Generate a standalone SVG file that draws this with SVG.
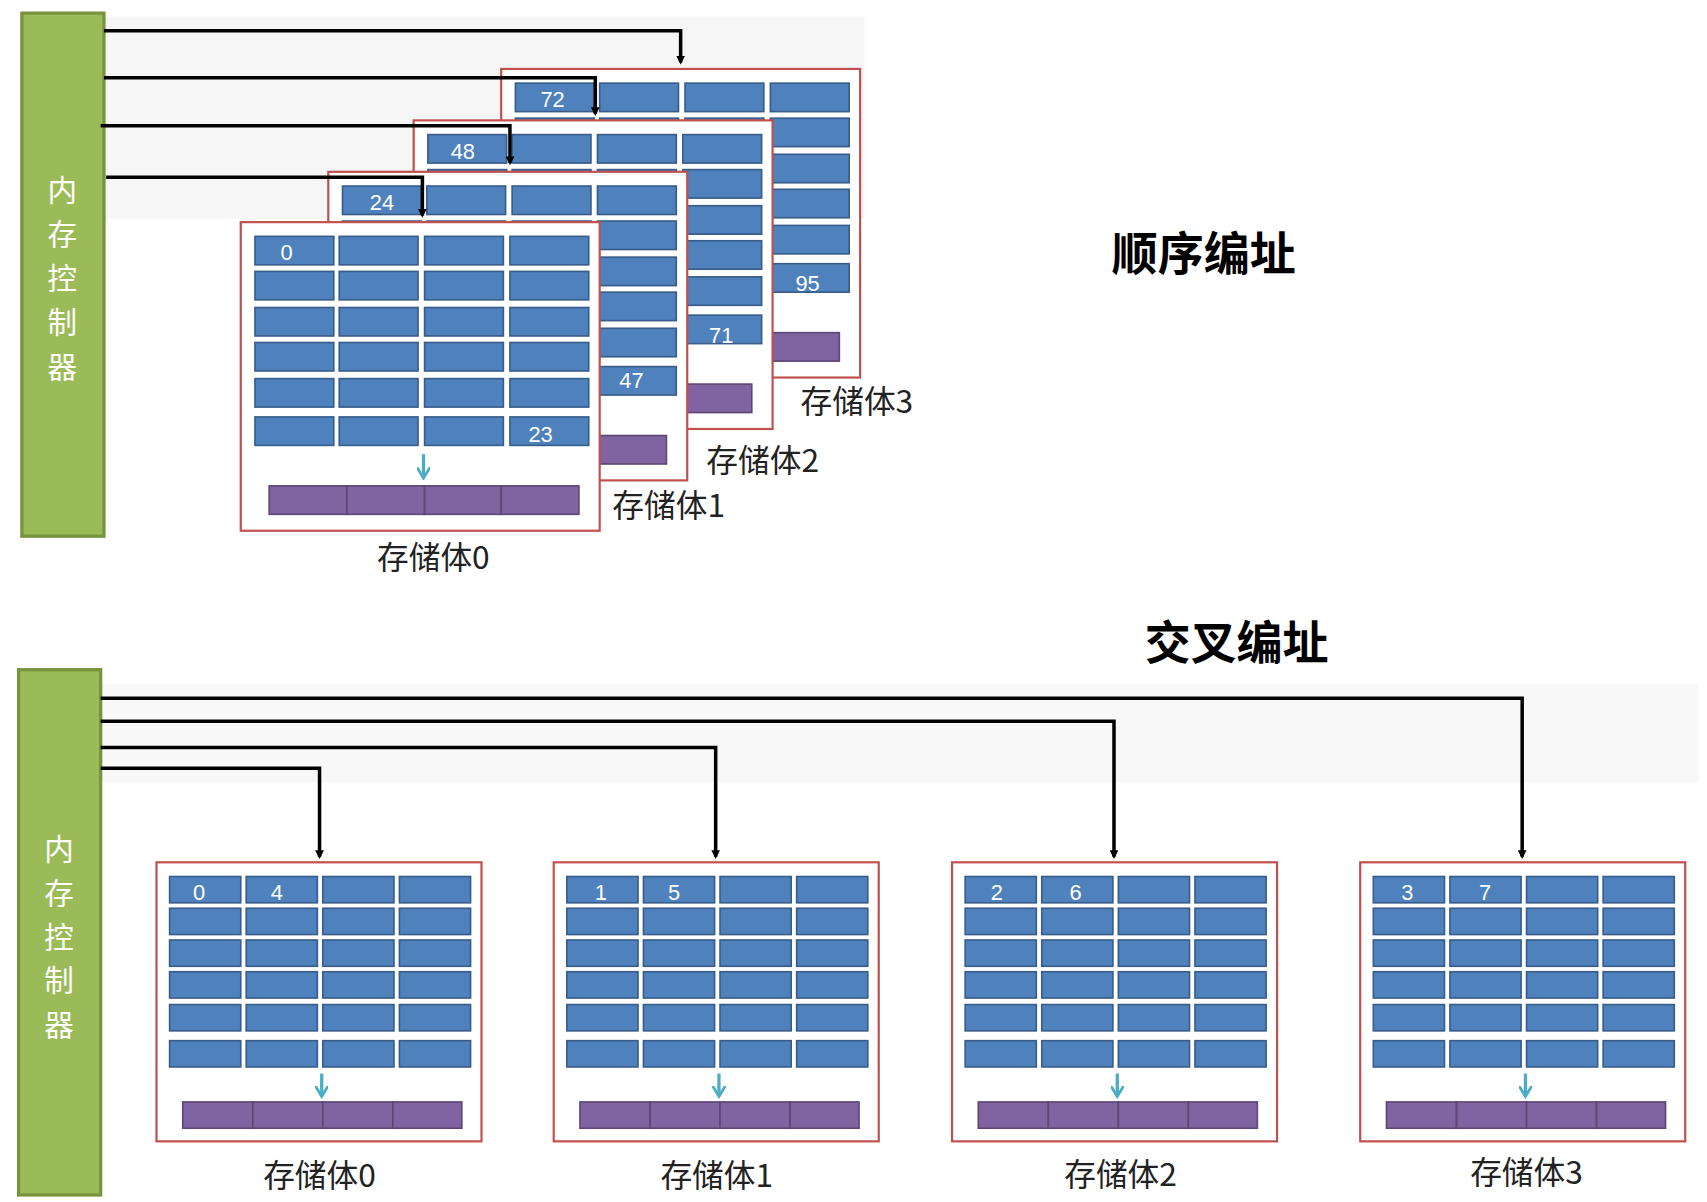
<svg xmlns="http://www.w3.org/2000/svg" xmlns:xlink="http://www.w3.org/1999/xlink" width="1707" height="1202" viewBox="0 0 1707 1202">
<style>
.ctl{fill:#9bbb59;stroke:#77933c;stroke-width:3}
.ctlt{fill:#fff;font-family:"Noto Sans CJK SC",sans-serif;font-size:27px;text-anchor:middle}
.frame{fill:#fff;stroke:#c0504d;stroke-width:2}
.cell{fill:#4f81bd;stroke:#385d8a;stroke-width:1.5}
.pur{fill:#8064a2;stroke:#5c4776;stroke-width:1.5}
.num{fill:#fff;font-family:"Liberation Sans",sans-serif;font-size:20px;text-anchor:middle}
.lbl{fill:#222;font-family:"Noto Sans CJK SC",sans-serif;font-size:29px;text-anchor:middle}
.title{fill:#000;font-family:"Noto Sans CJK SC",sans-serif;font-size:42px;font-weight:bold;text-anchor:middle}
.wire{fill:none;stroke:#000;stroke-width:3.2;marker-end:url(#ah)}
.cy{stroke:#4bacc6;stroke-width:3;marker-end:url(#ch)}
</style>
<defs>
<marker id="ah" markerWidth="8" markerHeight="8" refX="6" refY="4" orient="auto" markerUnits="userSpaceOnUse"><path d="M0,0 L8,4 L0,8 Z" fill="#000"/></marker>
<marker id="ch" markerWidth="12" markerHeight="12" refX="10" refY="6" orient="auto" markerUnits="userSpaceOnUse"><path d="M0,0 L10,6 L0,12" fill="none" stroke="#4bacc6" stroke-width="2.5"/></marker>
<g id="bankTop">
<rect class="frame" x="0" y="0" width="328" height="282"/>
<g class="cell">
<rect x="13" y="13" width="72" height="26"/><rect x="90" y="13" width="72" height="26"/><rect x="168" y="13" width="72" height="26"/><rect x="246" y="13" width="72" height="26"/>
<rect x="13" y="45" width="72" height="26"/><rect x="90" y="45" width="72" height="26"/><rect x="168" y="45" width="72" height="26"/><rect x="246" y="45" width="72" height="26"/>
<rect x="13" y="78" width="72" height="26"/><rect x="90" y="78" width="72" height="26"/><rect x="168" y="78" width="72" height="26"/><rect x="246" y="78" width="72" height="26"/>
<rect x="13" y="110" width="72" height="26"/><rect x="90" y="110" width="72" height="26"/><rect x="168" y="110" width="72" height="26"/><rect x="246" y="110" width="72" height="26"/>
<rect x="13" y="143" width="72" height="26"/><rect x="90" y="143" width="72" height="26"/><rect x="168" y="143" width="72" height="26"/><rect x="246" y="143" width="72" height="26"/>
<rect x="13" y="178" width="72" height="26"/><rect x="90" y="178" width="72" height="26"/><rect x="168" y="178" width="72" height="26"/><rect x="246" y="178" width="72" height="26"/>
</g>
<line class="cy" x1="167" y1="212" x2="167" y2="234"/>
<g class="pur"><rect x="26" y="241" width="71" height="26"/><rect x="97" y="241" width="71" height="26"/><rect x="168" y="241" width="70" height="26"/><rect x="238" y="241" width="71" height="26"/></g>
</g>
<g id="bankBot">
<rect class="frame" x="0" y="0" width="297" height="255"/>
<g class="cell">
<rect x="12" y="13" width="65" height="24"/><rect x="82" y="13" width="65" height="24"/><rect x="152" y="13" width="65" height="24"/><rect x="222" y="13" width="65" height="24"/>
<rect x="12" y="42" width="65" height="24"/><rect x="82" y="42" width="65" height="24"/><rect x="152" y="42" width="65" height="24"/><rect x="222" y="42" width="65" height="24"/>
<rect x="12" y="71" width="65" height="24"/><rect x="82" y="71" width="65" height="24"/><rect x="152" y="71" width="65" height="24"/><rect x="222" y="71" width="65" height="24"/>
<rect x="12" y="100" width="65" height="24"/><rect x="82" y="100" width="65" height="24"/><rect x="152" y="100" width="65" height="24"/><rect x="222" y="100" width="65" height="24"/>
<rect x="12" y="130" width="65" height="24"/><rect x="82" y="130" width="65" height="24"/><rect x="152" y="130" width="65" height="24"/><rect x="222" y="130" width="65" height="24"/>
<rect x="12" y="163" width="65" height="24"/><rect x="82" y="163" width="65" height="24"/><rect x="152" y="163" width="65" height="24"/><rect x="222" y="163" width="65" height="24"/>
</g>
<line class="cy" x1="151" y1="193" x2="151" y2="214"/>
<g class="pur"><rect x="24" y="219" width="64" height="24"/><rect x="88" y="219" width="64" height="24"/><rect x="152" y="219" width="64" height="24"/><rect x="216" y="219" width="63" height="24"/></g>
</g>
</defs>
<rect width="1707" height="1202" fill="#fff"/>
<g transform="scale(1.0943)">
<rect x="95" y="15" width="695" height="185" fill="#f6f6f6"/>
<rect x="92" y="625" width="1460" height="90" fill="#f8f8f8"/>

<g id="ctl-top"><rect class="ctl" x="20" y="12" width="75" height="478"/>
<text class="ctlt" x="57" y="184">内</text><text class="ctlt" x="57" y="224">存</text><text class="ctlt" x="57" y="264">控</text><text class="ctlt" x="57" y="304">制</text><text class="ctlt" x="57" y="345">器</text></g>

<g id="seq-bank3"><use xlink:href="#bankTop" x="458" y="63"/><text class="num" x="505" y="98">72</text><text class="num" x="738" y="266">95</text><text class="lbl" x="783" y="377">存储体3</text></g>
<g id="seq-bank2"><use xlink:href="#bankTop" x="378" y="110"/><text class="num" x="423" y="145">48</text><text class="num" x="659" y="313">71</text><text class="lbl" x="697" y="431">存储体2</text></g>
<g id="seq-bank1"><use xlink:href="#bankTop" x="300" y="157"/><text class="num" x="349" y="192">24</text><text class="num" x="577" y="355">47</text><text class="lbl" x="611" y="472">存储体1</text></g>
<g id="seq-bank0"><use xlink:href="#bankTop" x="220" y="203"/><text class="num" x="262" y="238">0</text><text class="num" x="494" y="404">23</text><text class="lbl" x="396" y="520">存储体0</text></g>

<g id="title-seq"><text class="title" x="1100" y="247">顺序编址</text></g>
<g id="title-int"><text class="title" x="1130" y="602">交叉编址</text></g>

<g id="ctl-bot"><rect class="ctl" x="17" y="612" width="75" height="480"/>
<text class="ctlt" x="54" y="786">内</text><text class="ctlt" x="54" y="826">存</text><text class="ctlt" x="54" y="866">控</text><text class="ctlt" x="54" y="906">制</text><text class="ctlt" x="54" y="947">器</text></g>

<g id="int-bank0"><use xlink:href="#bankBot" x="143" y="788"/><text class="num" x="182" y="822">0</text><text class="num" x="253" y="822">4</text><text class="lbl" x="292" y="1085">存储体0</text></g>
<g id="int-bank1"><use xlink:href="#bankBot" x="506" y="788"/><text class="num" x="549" y="822">1</text><text class="num" x="616" y="822">5</text><text class="lbl" x="655" y="1085">存储体1</text></g>
<g id="int-bank2"><use xlink:href="#bankBot" x="870" y="788"/><text class="num" x="911" y="822">2</text><text class="num" x="983" y="822">6</text><text class="lbl" x="1024" y="1084">存储体2</text></g>
<g id="int-bank3"><use xlink:href="#bankBot" x="1243" y="788"/><text class="num" x="1286" y="822">3</text><text class="num" x="1357" y="822">7</text><text class="lbl" x="1395" y="1082">存储体3</text></g>

<g id="connectors">
<path class="wire" d="M95,28 H622 V57"/>
<path class="wire" d="M95,71 H544 V104"/>
<path class="wire" d="M92,115 H466 V149"/>
<path class="wire" d="M97,162 H386 V197"/>
<path class="wire" d="M92,638 H1391 V783"/>
<path class="wire" d="M92,659 H1018 V783"/>
<path class="wire" d="M92,683 H654 V783"/>
<path class="wire" d="M92,702 H292 V783"/>
</g>
</g>
</svg>
